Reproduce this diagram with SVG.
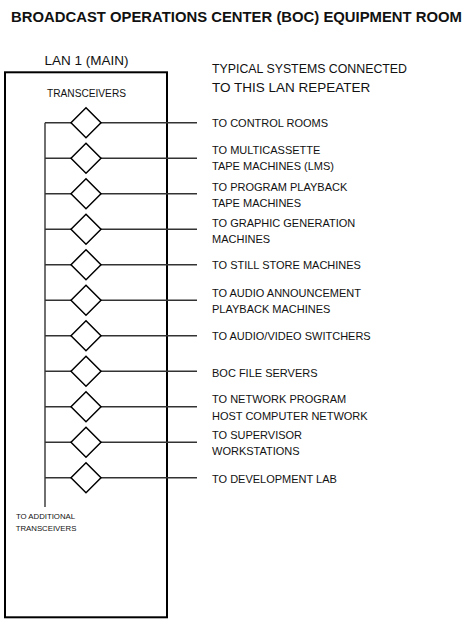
<svg xmlns="http://www.w3.org/2000/svg" width="474" height="619" viewBox="0 0 474 619">
<style>
text{font-family:"Liberation Sans",Arial,sans-serif;fill:#111}
.t{font-size:11px}
.dia{fill:#fff;stroke:#000;stroke-width:1.5}
.ln{stroke:#333;stroke-width:1.4;fill:none}
</style>
<defs>
<polygon id="d" class="dia" points="0,-15 15,0 0,15 -15,0"/>
</defs>
<rect width="474" height="619" fill="#fff"/>
<text x="11" y="22" font-size="14.6" font-weight="bold" textLength="451" lengthAdjust="spacingAndGlyphs">BROADCAST OPERATIONS CENTER (BOC) EQUIPMENT ROOM</text>
<text x="86.5" y="65" font-size="13.5" text-anchor="middle">LAN 1 (MAIN)</text>
<text x="212" y="73.3" font-size="13.5" textLength="195" lengthAdjust="spacingAndGlyphs">TYPICAL SYSTEMS CONNECTED</text>
<text x="212" y="92.3" font-size="13.5">TO THIS LAN REPEATER</text>
<g id="lan-box">
<rect x="5" y="72.3" width="162" height="545" fill="none" stroke="#000" stroke-width="2"/>
<text x="86.5" y="96.7" font-size="10" text-anchor="middle" textLength="79" lengthAdjust="spacingAndGlyphs">TRANSCEIVERS</text>
<text x="45.5" y="519" font-size="7.8" text-anchor="middle">TO ADDITIONAL</text>
<text x="46" y="530.5" font-size="7.8" text-anchor="middle">TRANSCEIVERS</text>
</g>
<g id="connectors">
<line class="ln" x1="45" y1="122.7" x2="45" y2="507"/>
<path class="ln" d="M45 122.7H197M45 158.2H197M45 193.7H197M45 229.2H197M45 264.7H197M45 300.2H197M45 335.7H197M45 371.2H197M45 406.7H197M45 442.2H197M45 477.7H197"/>
</g>
<g id="t1"><use href="#d" x="86" y="122.7"/><text class="t" x="212" y="127.3">TO CONTROL ROOMS</text></g>
<g id="t2"><use href="#d" x="86" y="158.2"/><text class="t" x="212" y="154.3">TO MULTICASSETTE</text><text class="t" x="212" y="170.3">TAPE MACHINES (LMS)</text></g>
<g id="t3"><use href="#d" x="86" y="193.7"/><text class="t" x="212" y="190.7">TO PROGRAM PLAYBACK</text><text class="t" x="212" y="206.7">TAPE MACHINES</text></g>
<g id="t4"><use href="#d" x="86" y="229.2"/><text class="t" x="212" y="226.7">TO GRAPHIC GENERATION</text><text class="t" x="212" y="242.7">MACHINES</text></g>
<g id="t5"><use href="#d" x="86" y="264.7"/><text class="t" x="212" y="268.7">TO STILL STORE MACHINES</text></g>
<g id="t6"><use href="#d" x="86" y="300.2"/><text class="t" x="212" y="296.5">TO AUDIO ANNOUNCEMENT</text><text class="t" x="212" y="312.7">PLAYBACK MACHINES</text></g>
<g id="t7"><use href="#d" x="86" y="335.7"/><text class="t" x="212" y="340">TO AUDIO/VIDEO SWITCHERS</text></g>
<g id="t8"><use href="#d" x="86" y="371.2"/><text class="t" x="212" y="376.7">BOC FILE SERVERS</text></g>
<g id="t9"><use href="#d" x="86" y="406.7"/><text class="t" x="212" y="403.3">TO NETWORK PROGRAM</text><text class="t" x="212" y="420">HOST COMPUTER NETWORK</text></g>
<g id="t10"><use href="#d" x="86" y="442.2"/><text class="t" x="212" y="439">TO SUPERVISOR</text><text class="t" x="212" y="455">WORKSTATIONS</text></g>
<g id="t11"><use href="#d" x="86" y="477.7"/><text class="t" x="212" y="482.7">TO DEVELOPMENT LAB</text></g>
</svg>
